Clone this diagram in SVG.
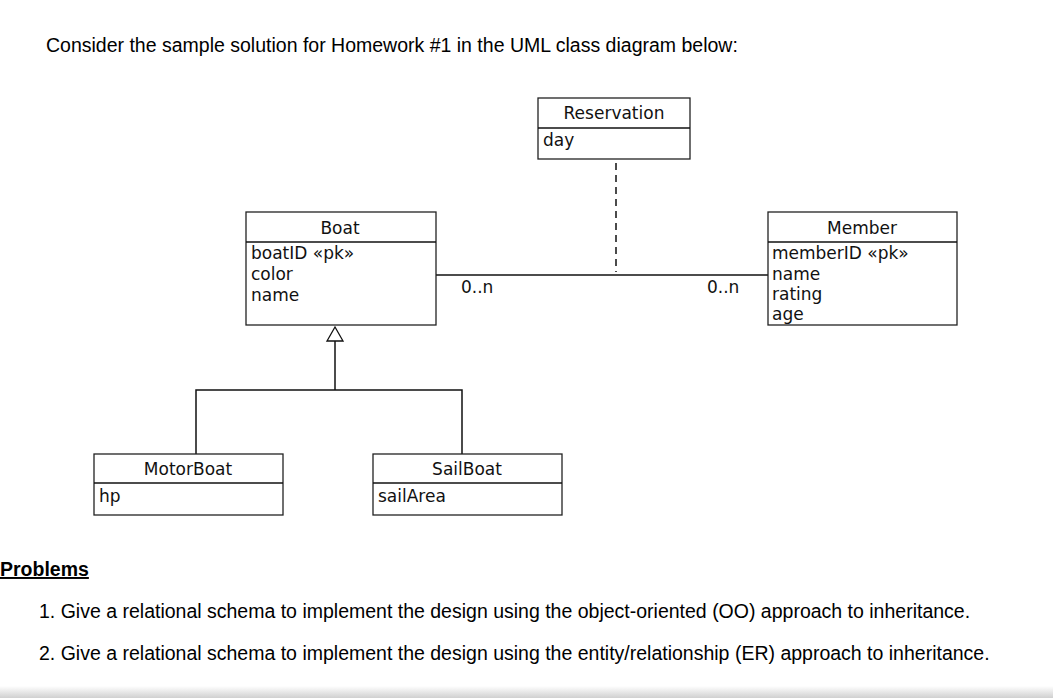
<svg xmlns="http://www.w3.org/2000/svg" width="1053" height="698" viewBox="0 0 1053 698">
<defs>
<linearGradient id="bar" x1="0" y1="0" x2="0" y2="1">
<stop offset="0" stop-color="#ffffff"/>
<stop offset="1" stop-color="#d0d0d0"/>
</linearGradient>
<style>
.doc{font-family:"Liberation Sans",Arial,sans-serif;font-size:19.5px;fill:#000}
.uml{font-family:"DejaVu Sans",sans-serif;font-size:17px;fill:#111}
.box{fill:#fff;stroke:#222;stroke-width:1.3}
.ln{stroke:#111;stroke-width:1.5;fill:none}
</style>
</defs>
<rect width="1053" height="698" fill="#fff"/>
<text class="doc" x="46" y="52">Consider the sample solution for Homework #1 in the UML class diagram below:</text>

<g id="connectors">
<line class="ln" x1="436" y1="275" x2="768" y2="275"/>
<line class="ln" x1="616" y1="163" x2="616" y2="272" stroke-dasharray="7,5" stroke-width="1.3"/>
<polygon points="335,327 327,341 343,341" fill="#fff" stroke="#111" stroke-width="1.3"/>
<polyline class="ln" points="335,341 335,390"/>
<polyline class="ln" points="196,454 196,390 462,390 462,454"/>
<text class="uml" x="461" y="293">0..n</text>
<text class="uml" x="707" y="293">0..n</text>
</g>

<g id="Reservation">
<rect class="box" x="538" y="98" width="152" height="61"/>
<line class="ln" x1="538" y1="128" x2="690" y2="128" stroke-width="1"/>
<text class="uml" x="614" y="119" text-anchor="middle">Reservation</text>
<text class="uml" x="543" y="146">day</text>
</g>

<g id="Boat">
<rect class="box" x="246" y="212" width="190" height="113"/>
<line class="ln" x1="246" y1="242" x2="436" y2="242" stroke-width="1"/>
<text class="uml" x="340" y="234" text-anchor="middle">Boat</text>
<text class="uml" x="251" y="259">boatID «pk»</text>
<text class="uml" x="251" y="280">color</text>
<text class="uml" x="251" y="301">name</text>
</g>

<g id="Member">
<rect class="box" x="768" y="212" width="189" height="113"/>
<line class="ln" x1="768" y1="242" x2="957" y2="242" stroke-width="1"/>
<text class="uml" x="862" y="234" text-anchor="middle">Member</text>
<text class="uml" x="772" y="259">memberID «pk»</text>
<text class="uml" x="772" y="280">name</text>
<text class="uml" x="772" y="300">rating</text>
<text class="uml" x="772" y="320">age</text>
</g>

<g id="MotorBoat">
<rect class="box" x="94" y="454" width="189" height="61"/>
<line class="ln" x1="94" y1="483" x2="283" y2="483" stroke-width="1"/>
<text class="uml" x="188" y="475" text-anchor="middle">MotorBoat</text>
<text class="uml" x="99" y="502">hp</text>
</g>

<g id="SailBoat">
<rect class="box" x="373" y="454" width="189" height="61"/>
<line class="ln" x1="373" y1="483" x2="562" y2="483" stroke-width="1"/>
<text class="uml" x="467" y="475" text-anchor="middle">SailBoat</text>
<text class="uml" x="378" y="502">sailArea</text>
</g>

<text class="doc" x="0" y="576" font-weight="bold" text-decoration="underline">Problems</text>
<text class="doc" x="39" y="618">1. Give a relational schema to implement the design using the object-oriented (OO) approach to inheritance.</text>
<text class="doc" x="39" y="660">2. Give a relational schema to implement the design using the entity/relationship (ER) approach to inheritance.</text>
<rect x="0" y="686" width="1053" height="12" fill="url(#bar)"/>
</svg>
